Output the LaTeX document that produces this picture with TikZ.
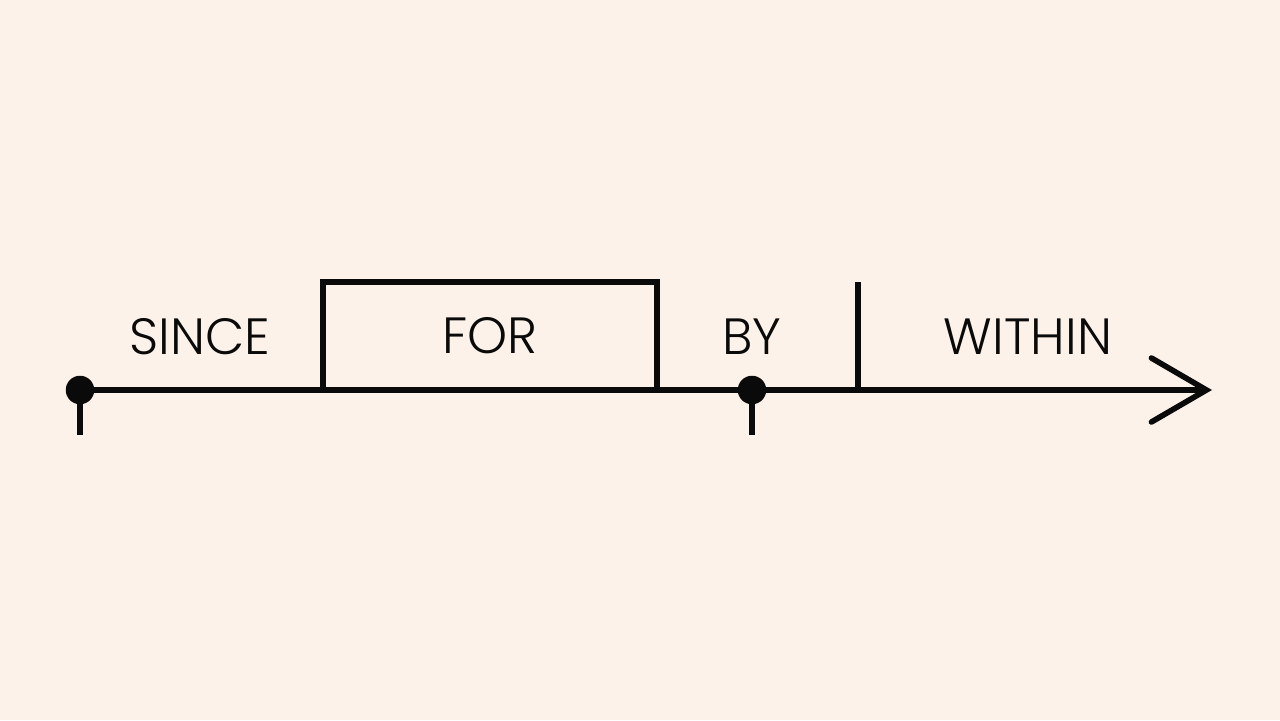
\documentclass[tikz,border=0pt]{standalone}
\usepackage{fontspec}
\setmainfont{Poppins Light}
\usepackage{xcolor}
\usepackage{tikz}
\usetikzlibrary{positioning,arrows.meta}
\definecolor{paper}{HTML}{FDF2EA}
\definecolor{ink}{HTML}{0A0A0A}

\begin{document}
\begin{tikzpicture}[
x=0.02cm, y=-0.02cm,
axis/.style={draw=ink, line width=3.2pt},
dot/.style={circle, draw=none, fill=ink, minimum size=0.57cm, inner sep=0pt},
word/.style={text=ink, font=\fontsize{29}{34}\selectfont, inner sep=0pt},
timebox/.style={rectangle, draw=ink, line width=3.2pt, minimum width=6.68cm, minimum height=2.16cm, inner sep=0pt}
]
\fill[paper] (0,0) rectangle (1280,720);
\useasboundingbox (0,0) rectangle (1280,720);

%Nodes
\coordinate (start) at (80,390);
\coordinate (end) at (1212,390);
\node[timebox, word] (for) at (490,336) {FOR};
\node[dot] (since_dot) at (start) {};
\node[dot] (by_dot) at (752,390) {};
\coordinate (since_stem) at (80,435);
\coordinate (by_stem) at (752,435);
\coordinate (within_tick) at (858,282);
\node[word] (since) at (200,337) {SINCE};
\node[word] (by) at (752,337) {BY};
\node[word] (within) at (1028,337) {WITHIN};

%Connections
\draw[axis, -{Straight Barb[length=1.1cm, width=1.28cm, line cap=round]}] (start) -- (end);
\draw[axis] (since_dot.center) -- (since_stem);
\draw[axis] (by_dot.center) -- (by_stem);
\draw[axis] (within_tick) -- (within_tick |- end);
\end{tikzpicture}
\end{document}
